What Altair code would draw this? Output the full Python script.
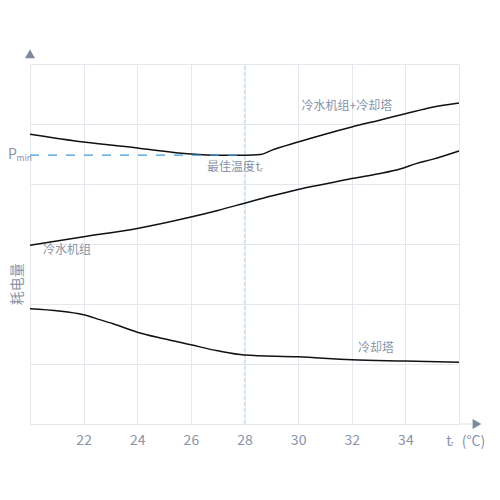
import altair as alt
import pandas as pd

# ---- data ----
temps_total = [20, 22, 24, 26, 27, 28, 28.6, 29, 30, 31, 32, 33, 34, 35, 36]
power_total = [4.83, 4.70, 4.60, 4.50, 4.48, 4.48, 4.49, 4.56, 4.70, 4.83, 4.95, 5.06, 5.17, 5.28, 5.35]

temps_chiller = [20, 22, 24, 26, 27, 28, 29, 30, 31, 32, 33, 33.8, 34.4, 35, 36]
power_chiller = [2.98, 3.12, 3.26, 3.45, 3.56, 3.68, 3.80, 3.91, 4.00, 4.09, 4.17, 4.25, 4.34, 4.41, 4.55]

temps_tower = [20, 22, 22.6, 23.1, 24, 25, 26, 27, 28, 30, 32, 34, 36]
power_tower = [1.92, 1.82, 1.74, 1.67, 1.53, 1.42, 1.32, 1.22, 1.15, 1.12, 1.07, 1.05, 1.03]

x_ticks = [20, 22, 24, 26, 28, 30, 32, 34, 36]
y_grid = [0, 1, 2, 3, 4, 5, 6]

p_min = 4.48
t_opt = 28

series_labels = ["冷水机组+冷却塔", "冷水机组", "冷却塔"]
series_label_x = [31.82, 21.38, 32.9]
series_label_y = [5.30, 2.90, 1.27]

TEXT = "#8a93a7"
GRID = "#e4e7ed"
ARROW = "#7d879e"
FONT = "Noto Sans CJK SC"

rows = []
for name, xs_, ys_ in [("冷水机组+冷却塔", temps_total, power_total),
                       ("冷水机组", temps_chiller, power_chiller),
                       ("冷却塔", temps_tower, power_tower)]:
    for a, b in zip(xs_, ys_):
        rows.append({"t": a, "p": b, "s": name})
df = pd.DataFrame(rows)

xs = alt.Scale(domain=[20, 36], nice=False, zero=False)
ys = alt.Scale(domain=[0, 6], nice=False, zero=False)

lines = alt.Chart(df).mark_line(color="#111111", strokeWidth=1.5, interpolate="monotone").encode(
    x=alt.X("t:Q", scale=xs, axis=alt.Axis(
        values=x_ticks, grid=True, gridColor=GRID, domain=False, ticks=False,
        labelExpr="datum.value == 20 || datum.value == 36 ? '' : datum.label",
        labelFontSize=14, labelColor=TEXT, labelFont=FONT, labelPadding=9, title=None)),
    y=alt.Y("p:Q", scale=ys, axis=alt.Axis(
        values=y_grid, grid=True, gridColor=GRID, domain=False, ticks=False,
        labels=False, title=None)),
    detail="s:N",
)

pmin_df = pd.DataFrame({"x": [20], "x2": [t_opt], "y": [p_min]})
pmin_rule = alt.Chart(pmin_df).mark_rule(color="#3d9bd8", strokeWidth=1.3, strokeDash=[9, 9]).encode(
    x=alt.X("x:Q", scale=xs), x2="x2:Q", y=alt.Y("y:Q", scale=ys))

vline_df = pd.DataFrame({"x": [t_opt], "y": [0], "y2": [6]})
vline = alt.Chart(vline_df).mark_rule(color="#d0e0ee", strokeWidth=1.2, strokeDash=[4, 2]).encode(
    x=alt.X("x:Q", scale=xs), y=alt.Y("y:Q", scale=ys), y2="y2:Q")

ext_df = pd.DataFrame({"x": [36], "x2": [36.5], "y": [0]})
ext = alt.Chart(ext_df).mark_rule(color=GRID, strokeWidth=1.2).encode(
    x=alt.X("x:Q", scale=xs), x2="x2:Q", y=alt.Y("y:Q", scale=ys))

arrow_r = alt.Chart(pd.DataFrame({"x": [36.67], "y": [0]})).mark_point(
    shape="triangle-right", filled=True, size=100, color=ARROW, opacity=1).encode(
    x=alt.X("x:Q", scale=xs), y=alt.Y("y:Q", scale=ys))
arrow_u = alt.Chart(pd.DataFrame({"x": [20], "y": [6.17]})).mark_point(
    shape="triangle-up", filled=True, size=100, color=ARROW, opacity=1).encode(
    x=alt.X("x:Q", scale=xs), y=alt.Y("y:Q", scale=ys))

lab_df = pd.DataFrame({"x": series_label_x, "y": series_label_y, "text": series_labels})
labels = alt.Chart(lab_df).mark_text(font=FONT, fontSize=12, color=TEXT).encode(
    x=alt.X("x:Q", scale=xs), y=alt.Y("y:Q", scale=ys), text="text:N")


def txt(x, y, s, size, align="left", angle=0):
    return alt.Chart(pd.DataFrame({"x": [x], "y": [y], "text": [s]})).mark_text(
        font=FONT, fontSize=size, color=TEXT, align=align, angle=angle, baseline="middle").encode(
        x=alt.X("x:Q", scale=xs), y=alt.Y("y:Q", scale=ys), text="text:N")


opt_label = txt(26.60, 4.28, "最佳温度", 12)
opt_t = txt(28.42, 4.28, "t", 12)
opt_sub = txt(28.58, 4.24, "r", 7)
p_label = txt(19.18, 4.48, "P", 14)
p_sub = txt(19.50, 4.43, "min", 8.5)
t_label = txt(35.52, -0.30, "t", 14)
t_sub = txt(35.70, -0.34, "r", 7)
c_label = txt(36.10, -0.30, "(°C)", 14)
y_title = txt(19.57, 2.33, "耗电量", 14, align="center", angle=270)

chart = alt.layer(
    vline, ext, lines, pmin_rule, arrow_r, arrow_u, labels,
    opt_label, opt_t, opt_sub, p_label, p_sub, t_label, t_sub, c_label, y_title,
).properties(
    width=429, height=360,
    autosize=alt.AutoSizeParams(type="none"),
    padding={"left": 22, "top": 56, "right": 33, "bottom": 60},
).configure_view(stroke=None)

chart.save("out.html", embed_options={"renderer": "svg", "actions": False})
